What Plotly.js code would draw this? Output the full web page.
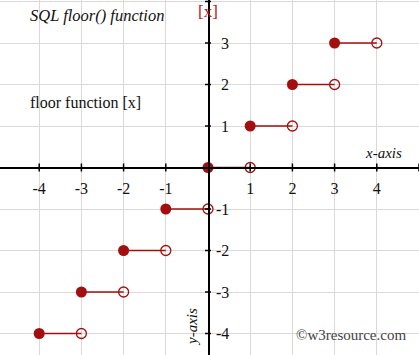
<!DOCTYPE html>
<html>
<head>
<meta charset="utf-8">
<script src="https://cdn.plot.ly/plotly-3.0.1.min.js"></script>
<style>html,body{margin:0;padding:0;background:#fff;}#chart{width:419px;height:355px;}</style>
</head>
<body>
<div id="chart"></div>
<script>
// Data: floor(x) = k on [k, k+1)
const stepStarts = [-4, -3, -2, -1, 0, 1, 2, 3];
const stepEnds = [-3, -2, -1, 0, 1, 2, 3, 4];
const floorValues = [-4, -3, -2, -1, 0, 1, 2, 3];
const xTickVals = [-4, -3, -2, -1, 1, 2, 3, 4, 5];
const xTickText = ['-4', '-3', '-2', '-1', '1', '2', '3', '4', ''];
const yTickVals = [-4, -3, -2, -1, 1, 2, 3, 4];
const yTickText = ['-4', '-3', '-2', '-1', '1', '2', '3', ''];

const RED = '#a30f0f';
const SERIF = 'Liberation Serif, Times New Roman, serif';
const xRange = [-4.929, 5.0];
const yRange = [-4.518, 4.036];

const segX = [], segY = [];
stepStarts.forEach((s, i) => { segX.push(s, stepEnds[i], null); segY.push(floorValues[i], floorValues[i], null); });

const traces = [
  {x: segX, y: segY, mode: 'lines', line: {color: RED, width: 1.5}, hoverinfo: 'skip', showlegend: false},
  {x: stepEnds, y: floorValues, mode: 'markers', marker: {symbol: 'circle-open', size: 10, color: RED, line: {width: 1.3, color: RED}}, showlegend: false},
  {x: stepStarts, y: floorValues, mode: 'markers', marker: {symbol: 'circle', size: 11, color: RED}, showlegend: false}
];

const shapes = [];
xTickVals.forEach(v => shapes.push({type: 'line', xref: 'x', yref: 'y', ysizemode: 'pixel', yanchor: 0, x0: v, x1: v, y0: -4, y1: 4, line: {color: '#000', width: 1.5}}));
yTickVals.forEach(v => shapes.push({type: 'line', xref: 'x', yref: 'y', xsizemode: 'pixel', xanchor: 0, y0: v, y1: v, x0: -3, x1: 3, line: {color: '#000', width: 1.5}}));

const annotations = [
  {text: 'floor function [x]', xref: 'paper', yref: 'paper', x: 0.203, y: 0.71, showarrow: false, xanchor: 'center', yanchor: 'middle', font: {family: SERIF, size: 16, color: '#111'}},
  {text: '[x]', xref: 'x', yref: 'paper', x: 0, y: 0.968, showarrow: false, xanchor: 'center', yanchor: 'middle', font: {family: SERIF, size: 17, color: '#b01818'}},
  {text: '<i>x-axis</i>', xref: 'paper', yref: 'paper', x: 383 / 419, y: 1 - 153 / 355, showarrow: false, xanchor: 'center', yanchor: 'middle', font: {family: SERIF, size: 15, color: '#111'}},
  {text: '<i>y-axis</i>', xref: 'paper', yref: 'paper', x: 192 / 419, y: 1 - 327 / 355, showarrow: false, textangle: -90, xanchor: 'center', yanchor: 'middle', font: {family: SERIF, size: 15, color: '#111'}},
  {text: '©w3resource.com', xref: 'paper', yref: 'paper', x: 351 / 419, y: 1 - 335 / 355, showarrow: false, xanchor: 'center', yanchor: 'middle', font: {family: SERIF, size: 15, color: '#444'}}
];
yTickVals.forEach((v, i) => {
  if (yTickText[i]) annotations.push({text: yTickText[i], xref: 'x', yref: 'y', x: 0, y: v, xshift: 23, showarrow: false, xanchor: 'right', yanchor: 'middle', font: {family: SERIF, size: 16, color: '#111'}});
});

const layout = {
  width: 419, height: 355,
  margin: {l: 0, r: 0, t: 0, b: 0},
  paper_bgcolor: '#fff', plot_bgcolor: '#fff',
  showlegend: false,
  title: {text: '<i>SQL floor() function</i>', x: 0.232, y: 0.958, xref: 'paper', yref: 'paper', xanchor: 'center', yanchor: 'middle', font: {family: SERIF, size: 16.5, color: '#111'}},
  xaxis: {range: xRange, anchor: 'free', position: 4.518 / 8.554, tickvals: xTickVals, ticktext: xTickText, ticks: '', showline: true, linecolor: '#000', linewidth: 1.5, showgrid: true, gridcolor: '#dcd8d8', gridwidth: 1, zeroline: false, tickfont: {family: SERIF, size: 16, color: '#111'}, ticklabelstandoff: 6, fixedrange: true},
  yaxis: {range: yRange, anchor: 'free', position: 4.929 / 9.929, tickvals: yTickVals, showticklabels: false, ticks: '', showline: true, linecolor: '#000', linewidth: 1.5, showgrid: true, gridcolor: '#dcd8d8', gridwidth: 1, zeroline: false, fixedrange: true},
  shapes: shapes,
  annotations: annotations
};

Plotly.newPlot('chart', traces, layout, {displayModeBar: false, staticPlot: true});
</script>
</body>
</html>
